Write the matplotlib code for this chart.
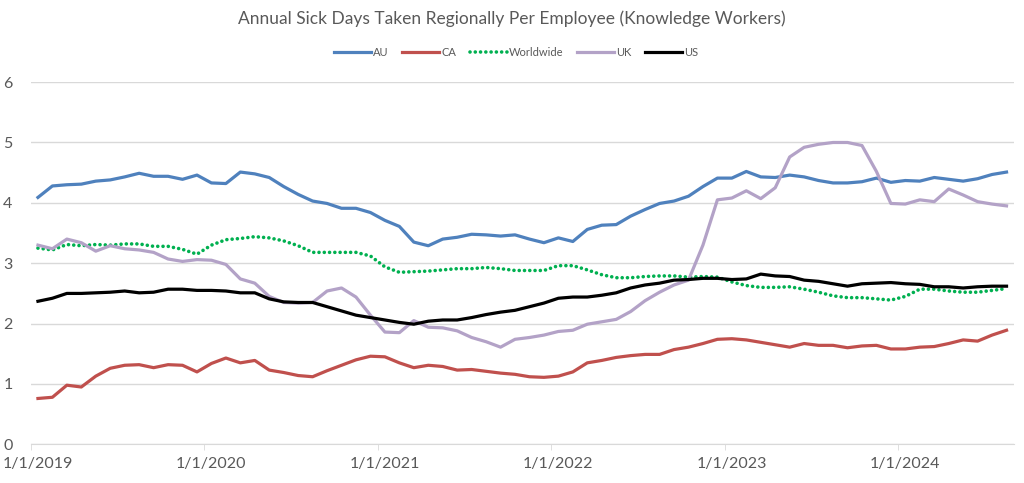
# -*- coding: utf-8 -*-
"""
Annual sick days per employee, monthly, by region (Excel-style line chart).
"""

import numpy as np
import pandas as pd
import matplotlib
matplotlib.use("Agg")
import matplotlib.pyplot as plt

plt.rcParams['font.family'] = ['Lato', 'DejaVu Sans']

months = pd.date_range('2019-01-01', periods=68, freq='MS')

au = [4.09, 4.28, 4.30, 4.31, 4.36, 4.38, 4.43, 4.49, 4.44, 4.44, 4.39, 4.46,
      4.33, 4.32, 4.51, 4.48, 4.42, 4.27, 4.14, 4.03, 3.99, 3.91, 3.91, 3.84,
      3.71, 3.61, 3.35, 3.29, 3.40, 3.43, 3.48, 3.47, 3.45, 3.47, 3.40, 3.34,
      3.42, 3.36, 3.56, 3.63, 3.64, 3.78, 3.89, 3.99, 4.03, 4.11, 4.27, 4.41,
      4.41, 4.52, 4.43, 4.42, 4.46, 4.43, 4.37, 4.33, 4.33, 4.35, 4.41, 4.34,
      4.37, 4.36, 4.42, 4.39, 4.36, 4.40, 4.47, 4.51]

ca = [0.76, 0.78, 0.98, 0.95, 1.13, 1.26, 1.31, 1.32, 1.27, 1.32, 1.31, 1.20,
      1.34, 1.43, 1.35, 1.39, 1.23, 1.19, 1.14, 1.12, 1.22, 1.31, 1.40, 1.46,
      1.45, 1.35, 1.27, 1.31, 1.29, 1.23, 1.24, 1.21, 1.18, 1.16, 1.12, 1.11,
      1.13, 1.20, 1.35, 1.39, 1.44, 1.47, 1.49, 1.49, 1.57, 1.61, 1.67, 1.74,
      1.75, 1.73, 1.69, 1.65, 1.61, 1.67, 1.64, 1.64, 1.60, 1.63, 1.64, 1.58,
      1.58, 1.61, 1.62, 1.67, 1.73, 1.71, 1.81, 1.89]

worldwide = [3.25, 3.22, 3.31, 3.29, 3.31, 3.30, 3.32, 3.32, 3.28, 3.28, 3.23, 3.15,
             3.30, 3.39, 3.41, 3.44, 3.42, 3.37, 3.29, 3.18, 3.18, 3.18, 3.18, 3.12,
             2.94, 2.85, 2.86, 2.87, 2.89, 2.91, 2.91, 2.93, 2.91, 2.88, 2.88, 2.88,
             2.96, 2.96, 2.89, 2.81, 2.76, 2.76, 2.78, 2.79, 2.79, 2.77, 2.78, 2.77,
             2.69, 2.63, 2.60, 2.60, 2.61, 2.57, 2.52, 2.46, 2.43, 2.43, 2.41, 2.39,
             2.45, 2.57, 2.57, 2.54, 2.52, 2.52, 2.55, 2.58]

uk = [3.30, 3.24, 3.40, 3.34, 3.20, 3.29, 3.24, 3.22, 3.18, 3.07, 3.03, 3.06,
      3.05, 2.98, 2.74, 2.67, 2.45, 2.35, 2.34, 2.35, 2.54, 2.59, 2.44, 2.14,
      1.86, 1.85, 2.05, 1.94, 1.93, 1.88, 1.77, 1.70, 1.61, 1.74, 1.77, 1.81,
      1.87, 1.89, 1.99, 2.03, 2.07, 2.20, 2.38, 2.52, 2.64, 2.72, 3.30, 4.05,
      4.08, 4.20, 4.07, 4.25, 4.76, 4.92, 4.97, 5.00, 5.00, 4.95, 4.52, 3.99,
      3.98, 4.05, 4.02, 4.23, 4.13, 4.02, 3.98, 3.95]

us = [2.37, 2.42, 2.50, 2.50, 2.51, 2.52, 2.54, 2.51, 2.52, 2.57, 2.57, 2.55,
      2.55, 2.54, 2.51, 2.51, 2.41, 2.36, 2.35, 2.35, 2.28, 2.21, 2.14, 2.10,
      2.06, 2.02, 1.99, 2.04, 2.06, 2.06, 2.10, 2.15, 2.19, 2.22, 2.28, 2.34,
      2.42, 2.44, 2.44, 2.47, 2.51, 2.59, 2.64, 2.67, 2.72, 2.73, 2.75, 2.75,
      2.73, 2.74, 2.82, 2.79, 2.78, 2.72, 2.70, 2.66, 2.62, 2.66, 2.67, 2.68,
      2.66, 2.65, 2.61, 2.61, 2.59, 2.61, 2.62, 2.62]

grey = '#595959'
grid = '#d9d9d9'

fig = plt.figure(figsize=(10.24, 4.83), dpi=100)
ax = fig.add_axes([0.030, 0.080, 0.960, 0.750])

x = np.arange(len(months))
lw = 2.3
ax.plot(x, au, color='#4f81bd', lw=lw, label='AU', solid_joinstyle='round')
ax.plot(x, ca, color='#c0504d', lw=lw, label='CA', solid_joinstyle='round')
ax.plot(x, worldwide, color='#00b050', lw=2.6, linestyle=(0, (0.01, 1.45)),
        dash_capstyle='round', label='Worldwide')
ax.plot(x, uk, color='#b3a2c7', lw=lw, label='UK', solid_joinstyle='round')
ax.plot(x, us, color='black', lw=lw, label='US', solid_joinstyle='round')

ax.set_xlim(-0.5, len(months) - 0.5)
ax.set_ylim(0, 6)
ax.set_yticks(range(0, 7))

# labels centred on January, tick marks on the year boundary
jan = [i for i, m in enumerate(months) if m.month == 1]
ax.set_xticks(jan)
ax.set_xticklabels(['%d/%d/%d' % (months[i].month, months[i].day, months[i].year) for i in jan])
ax.set_xticks([i - 0.5 for i in jan], minor=True)
ax.tick_params(axis='x', which='major', length=0, pad=9, labelsize=11.5, labelcolor=grey)
ax.tick_params(axis='x', which='minor', length=4, color=grid)
ax.tick_params(axis='y', length=0, pad=13, labelsize=11.5, labelcolor=grey)

ax.grid(axis='y', color=grid, lw=1)
ax.set_axisbelow(True)
for s in ['top', 'right', 'left']:
    ax.spines[s].set_visible(False)
ax.spines['bottom'].set_color(grid)

fig.suptitle('Annual Sick Days Taken Regionally Per Employee (Knowledge Workers)',
             y=0.978, fontsize=12.5, color=grey)
fig.legend(loc='center', bbox_to_anchor=(0.504, 0.892), ncol=5, frameon=False,
           fontsize=8, labelcolor=grey, handlelength=3.3, handletextpad=0.2,
           columnspacing=1.25)

fig.savefig('out.png', dpi=100)
